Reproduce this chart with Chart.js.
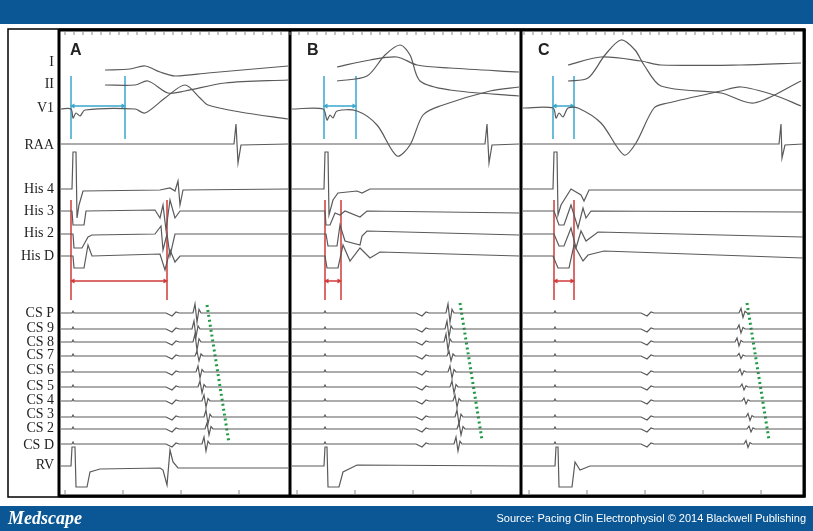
<!DOCTYPE html>
<html>
<head>
<meta charset="utf-8">
<script src="https://cdn.jsdelivr.net/npm/chart.js@4"></script>
<style>
  body { margin: 0; background: #fff; }
  canvas { display: block; }
</style>
</head>
<body>
<canvas id="ep" width="813" height="531"></canvas>
<script>
// trace points (x, y in figure pixels), one list per panel A/B/C
const leadI = [
  [[105,70],[130,69],[145,66],[160,72],[175,76],[208,73],[288,66]],
  [[337,67],[370,60],[397,57],[417,65],[450,68],[519,72]],
  [[568,65],[601,57],[641,61],[661,65],[740,65],[801,63]]
];
const leadII = [
  [[105,85],[135,85],[148,81],[168,93],[185,91],[225,83],[288,80]],
  [[337,81],[367,76],[385,55],[400,45],[410,55],[420,81],[450,90],[519,96]],
  [[568,81],[588,78],[605,55],[621,40],[635,50],[644,65],[661,86],[721,93],[754,103],[801,81]]
];
const leadV1 = [
  [[61,109],[71,109],[73,118],[76,113],[80,116],[85,110],[135,109],[145,113],[165,98],[185,85],[200,98],[208,105],[240,112],[288,119]],
  [[292,109],[323,109],[327,120],[330,115],[333,118],[337,111],[357,111],[377,125],[397,156],[410,145],[423,115],[440,106],[490,91],[519,87]],
  [[523,108],[553,108],[556,118],[559,113],[563,117],[568,108],[578,108],[601,123],[624,155],[636,143],[654,108],[668,103],[721,91],[741,87],[774,95],[801,106]]
];
const raa = [
  [[61,144],[234,144],[236,124],[238,163],[241,145],[288,144]],
  [[292,144],[485,144],[487,124],[489,163],[492,145],[519,144]],
  [[523,144],[779,144],[781,124],[782,158],[785,145],[803,144]]
];
const his4 = [
  [[61,189],[72,189],[73,152],[76,152],[77,218],[79,205],[83,191],[160,190],[170,188],[175,191],[178,181],[180,205],[183,190],[288,189]],
  [[292,189],[324,189],[325,152],[328,152],[329,215],[333,200],[338,193],[357,191],[362,193],[370,189],[519,189]],
  [[523,189],[553,189],[554,152],[557,152],[558,215],[561,205],[571,189],[581,195],[584,201],[589,190],[803,190]]
];
const his3 = [
  [[61,211],[72,211],[73,225],[84,225],[86,211],[155,210],[160,218],[163,205],[166,230],[170,200],[175,218],[180,211],[288,211]],
  [[292,211],[325,211],[326,225],[330,225],[335,213],[340,215],[345,211],[360,217],[367,211],[519,213]],
  [[523,211],[554,211],[559,225],[564,225],[571,205],[578,228],[583,208],[586,218],[591,211],[803,212]]
];
const his2 = [
  [[61,234],[73,234],[74,248],[82,248],[88,237],[92,235],[155,234],[161,226],[163,250],[167,234],[170,256],[175,234],[288,234]],
  [[292,234],[326,234],[328,246],[337,246],[340,225],[345,241],[360,245],[362,236],[367,231],[519,235]],
  [[523,234],[554,234],[559,246],[564,246],[571,228],[576,248],[581,231],[586,241],[598,232],[803,237]]
];
const hisD = [
  [[61,256],[73,256],[74,268],[84,268],[88,245],[92,256],[160,254],[165,270],[170,250],[175,262],[180,256],[288,256]],
  [[292,256],[325,256],[327,268],[338,268],[343,245],[350,261],[360,248],[370,258],[380,252],[519,256]],
  [[523,256],[553,256],[558,268],[569,268],[574,245],[583,261],[588,255],[604,251],[803,258]]
];
const rv = [
  [[61,466],[71,466],[72,447],[75,447],[76,487],[87,487],[90,472],[100,469],[160,468],[163,470],[167,485],[170,450],[173,462],[178,468],[288,468]],
  [[292,466],[324,466],[325,447],[327,447],[328,487],[339,487],[343,472],[357,465],[519,466]],
  [[523,466],[555,466],[556,447],[558,447],[559,487],[572,487],[575,462],[580,470],[590,466],[803,466]]
];

// coronary sinus channels
const csBase = [313,329,342,356,372,387,401,417,429,444];
const csActA = [196,195,196,198,199,201,205,207,208,205];
const csActB = [449,448,447,450,451,453,456,458,460,457];
const csActC = [742,740,738,740,741,743,745,749,750,747];
const csAmp  = [9,8,8,5,6,6,6,7,6,7];
const csAmpScale = [1, 1, 0.5];
const farX  = [172,422,647];
const stimX = [73,325,555];
const panelStart = [61,292,523];
const panelEnd = [288,519,803];

// annotations
const blueX = [[71,125],[324,356],[553,574]];
const redX  = [[71,167],[325,341],[554,574]];
const greenLine = [[[207,305],[229,443]],[[460,303],[482,440]],[[747,303],[769,440]]];

const labels = [
  ['I',62],['II',84],['V1',108],['RAA',145],['His 4',189],['His 3',211],['His 2',233],['His D',256],
  ['CS P',313],['CS 9',328],['CS 8',342],['CS 7',355],['CS 6',370],['CS 5',386],['CS 4',400],['CS 3',414],['CS 2',428],['CS D',445],['RV',465]
];
const panelLetters = [['A',70],['B',307],['C',538]];

const pts = list => list.map(p => ({ x: p[0], y: p[1] }));
const datasets = [];
const addTrace = (data, color, width, extra) => datasets.push(Object.assign({
  data: data, showLine: true, borderColor: color, borderWidth: width, pointRadius: 0, tension: 0
}, extra || {}));

// surface leads are smooth waves
[leadI, leadII, leadV1].forEach(tr => {
  tr.forEach(list => addTrace(pts(list), '#5a5a5a', 1.2, { tension: 0.3 }));
});
[raa, his4, his3, his2, hisD, rv].forEach(tr => {
  tr.forEach(list => addTrace(pts(list), '#5a5a5a', 1.2));
});

const csAct = [csActA, csActB, csActC];
for (let p = 0; p < 3; p++) {
  csBase.forEach((b, i) => {
    const a = csAct[p][i], amp = csAmp[i] * csAmpScale[p];
    const s = stimX[p], f = farX[p];
    const list = [[panelStart[p],b],[s-1,b],[s,b-2],[s+1,b],[f-6,b],[f,b+3],[f+4,b-1],[f+7,b],
      [a-3,b],[a-1,b-amp],[a+1,b+amp],[a+3,b-amp*0.4],[a+5,b],[panelEnd[p],b]];
    addTrace(pts(list), '#5a5a5a', 1.2);
  });
}

// blue intervals
blueX.forEach(xs => {
  xs.forEach(x => addTrace([{x:x,y:76},{x:x,y:139}], '#3aa6cc', 1.5));
  addTrace([{x:xs[0]+2,y:106},{x:xs[1]-2,y:106}], '#3aa6cc', 1.5,
    { pointRadius: [3,3], pointStyle: 'triangle', pointRotation: [-90,90], backgroundColor: '#3aa6cc', pointBorderWidth: 0 });
});
// red intervals
redX.forEach(xs => {
  xs.forEach(x => addTrace([{x:x,y:200},{x:x,y:300}], '#d03a3a', 1.5));
  addTrace([{x:xs[0]+2,y:281},{x:xs[1]-2,y:281}], '#d03a3a', 1.5,
    { pointRadius: [3,3], pointStyle: 'triangle', pointRotation: [-90,90], backgroundColor: '#d03a3a', pointBorderWidth: 0 });
});
// green activation lines
greenLine.forEach(g => addTrace(pts(g), '#1f9a45', 3, { borderDash: [2,3] }));

const figurePlugin = {
  id: 'figure',
  beforeDatasetsDraw(chart) {
    const { ctx, scales: { x, y } } = chart;
    const X = v => x.getPixelForValue(v), Y = v => y.getPixelForValue(v);
    ctx.save();
    ctx.fillStyle = '#0b5795';
    ctx.fillRect(0, 0, 813, 24);
    ctx.fillRect(0, 506, 813, 25);
    ctx.strokeStyle = '#000';
    ctx.lineWidth = 1.5;
    ctx.strokeRect(X(8), Y(29), X(805) - X(8), Y(497) - Y(29));
    ctx.lineWidth = 3;
    ctx.beginPath();
    [59, 290, 521, 804].forEach(v => { ctx.moveTo(X(v), Y(29)); ctx.lineTo(X(v), Y(497)); });
    ctx.moveTo(X(59), Y(30)); ctx.lineTo(X(805), Y(30));
    ctx.moveTo(X(59), Y(496)); ctx.lineTo(X(805), Y(496));
    ctx.stroke();
    ctx.lineWidth = 1;
    ctx.strokeStyle = '#888';
    ctx.beginPath();
    for (let t = 65; t < 800; t += 9) {
      ctx.moveTo(X(t), Y(32)); ctx.lineTo(X(t), Y(35));
    }
    for (let t = 65; t < 800; t += 58) {
      ctx.moveTo(X(t), Y(490)); ctx.lineTo(X(t), Y(494));
    }
    ctx.stroke();

    ctx.fillStyle = '#222';
    ctx.font = '14px "Liberation Serif"';
    ctx.textAlign = 'right';
    ctx.textBaseline = 'middle';
    labels.forEach(l => ctx.fillText(l[0], X(54), Y(l[1])));
    ctx.font = 'bold 16px "Liberation Sans"';
    ctx.textAlign = 'left';
    panelLetters.forEach(l => ctx.fillText(l[0], X(l[1]), Y(51)));

    ctx.fillStyle = '#fff';
    ctx.font = 'italic bold 18px "Liberation Serif"';
    ctx.fillText('Medscape', 8, 519);
    ctx.font = '11px "Liberation Sans"';
    ctx.textAlign = 'right';
    ctx.fillText('Source: Pacing Clin Electrophysiol © 2014 Blackwell Publishing', 806, 519);
    ctx.restore();
  }
};

new Chart(document.getElementById('ep'), {
  type: 'scatter',
  data: { datasets: datasets },
  options: {
    responsive: false,
    animation: false,
    layout: { padding: 0, autoPadding: false },
    plugins: { legend: { display: false }, tooltip: { enabled: false } },
    scales: {
      x: { type: 'linear', min: 0, max: 813, display: false },
      y: { type: 'linear', min: 0, max: 531, reverse: true, display: false }
    }
  },
  plugins: [figurePlugin]
});
</script>
</body>
</html>
